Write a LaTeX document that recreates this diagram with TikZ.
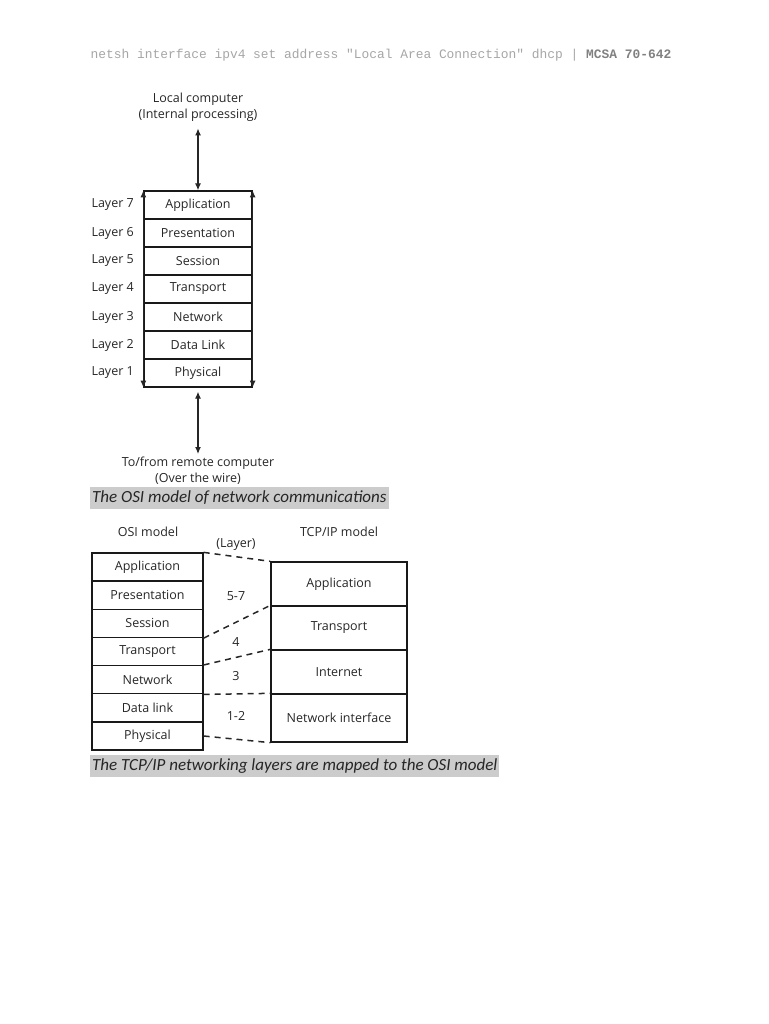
\documentclass[tikz,border=0pt]{standalone}
\usepackage{fontspec}
\setmainfont{Open Sans}
\newfontfamily\capfont{Carlito}
\newfontfamily\headfont{Liberation Mono}
\usetikzlibrary{arrows.meta}
\begin{document}
\begin{tikzpicture}[x=1pt,y=-1pt,
    txt/.style={font=\fontsize{12.5}{16}\selectfont, text=black!85, align=center, inner sep=0pt},
    layerbox/.style={draw=black!90, line width=1.3pt, rectangle, minimum width=108pt, minimum height=28pt, inner sep=0pt, font=\fontsize{12.5}{14}\selectfont, text=black!85},
    osibox/.style={layerbox, minimum width=111pt, minimum height=28.15pt},
    tcpbox/.style={layerbox, minimum width=136pt, minimum height=44pt},
    flow/.style={{Latex[length=7pt,width=6pt]}-{Latex[length=7pt,width=6pt]}, line width=1.2pt, black!85},
    map/.style={dashed, dash pattern=on 6pt off 5pt, line width=1.5pt, black!85},
    caption/.style={font=\fontsize{17}{20}\selectfont\capfont\itshape, fill=black!20, text=black!85, anchor=west, inner xsep=2pt, minimum height=22pt}]
    \useasboundingbox (0,0) rectangle (768,1024);

    \node[font=\fontsize{12.9}{14}\selectfont\headfont, text=black!35] (head) at (381,55)
        {netsh interface ipv4 set address "Local Area Connection" dhcp | \textcolor{black!50}{\bfseries MCSA 70-642}};

    % OSI stack
    \node[txt] (local) at (198,107) {Local computer\\(Internal processing)};
    \node[layerbox] (app) at (198,205) {Application};
    \node[layerbox] (pres) at (198,233) {Presentation};
    \node[layerbox] (sess) at (198,261) {Session};
    \node[layerbox] (trans) at (198,289) {Transport};
    \node[layerbox] (net) at (198,317) {Network};
    \node[layerbox] (link) at (198,345) {Data Link};
    \node[layerbox] (phys) at (198,373) {Physical};
    \node[txt] (remote) at (198,471) {To/from remote computer\\(Over the wire)};

    \node[txt, anchor=east] (l7) at (134,205) {Layer 7};
    \node[txt, anchor=east] (l6) at (134,233) {Layer 6};
    \node[txt, anchor=east] (l5) at (134,261) {Layer 5};
    \node[txt, anchor=east] (l4) at (134,289) {Layer 4};
    \node[txt, anchor=east] (l3) at (134,317) {Layer 3};
    \node[txt, anchor=east] (l2) at (134,345) {Layer 2};
    \node[txt, anchor=east] (l1) at (134,373) {Layer 1};

    \draw[flow, shorten <=7pt] (local.south) -- (app.north);
    \draw[flow, shorten <=4pt, shorten >=3pt] (phys.south) -- (remote.north);
    \draw[flow] (app.north west) -- (phys.south west);
    \draw[flow] (app.north east) -- (phys.south east);

    \node[caption] (cap1) at (90,498) {The OSI model of network communications};

    % OSI vs TCP/IP
    \node[txt] (osititle) at (148,532) {OSI model};
    \node[txt] (tcptitle) at (339,532) {TCP/IP model};
    \node[txt] (layer) at (236,545) {(Layer)};

    \node[osibox] (oapp) at (147.5,567.1) {Application};
    \node[osibox] (opres) at (147.5,595.2) {Presentation};
    \node[osibox] (osess) at (147.5,623.4) {Session};
    \node[osibox] (otrans) at (147.5,651.5) {Transport};
    \node[osibox] (onet) at (147.5,679.7) {Network};
    \node[osibox] (olink) at (147.5,707.8) {Data link};
    \node[osibox] (ophys) at (147.5,736) {Physical};

    \node[tcpbox] (tapp) at (339,584) {Application};
    \node[tcpbox] (ttrans) at (339,628) {Transport};
    \node[tcpbox] (tinet) at (339,672) {Internet};
    \node[tcpbox, minimum height=48pt] (tnif) at (339,718) {Network interface};

    \node[txt] (n57) at (236,596) {5-7};
    \node[txt] (n4) at (236,642) {4};
    \node[txt] (n3) at (236,676) {3};
    \node[txt] (n12) at (236,716) {1-2};

    \draw[map] (oapp.north east) -- (tapp.north west);
    \draw[map] (osess.south east) -- (ttrans.north west);
    \draw[map] (onet.north east) -- (tinet.north west);
    \draw[map] (onet.south east) -- (tnif.north west);
    \draw[map] (ophys.east) -- (tnif.south west);

    \node[caption] (cap2) at (90,766) {The TCP/IP networking layers are mapped to the OSI model};
\end{tikzpicture}
\end{document}
